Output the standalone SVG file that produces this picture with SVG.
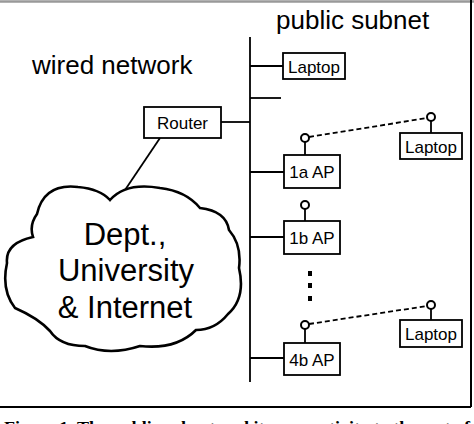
<svg xmlns="http://www.w3.org/2000/svg" width="474" height="424" viewBox="0 0 474 424">
<style>
.box{fill:#fff;stroke:#000;stroke-width:1.8}
.lbl{font-family:"Liberation Sans",Arial,sans-serif;font-size:17px;text-anchor:middle;fill:#000}
.big{font-family:"Liberation Sans",Arial,sans-serif;font-size:26px;fill:#000}
.cl{font-family:"Liberation Sans",Arial,sans-serif;font-size:31px;text-anchor:middle;fill:#000}
.ln{stroke:#000;stroke-width:1.8;fill:none}
.dash{stroke:#000;stroke-width:1.8;fill:none;stroke-dasharray:5,3}
.ant{fill:#fff;stroke:#000;stroke-width:2}
</style>
<rect width="474" height="424" fill="#fff"/>
<g id="frame">
<line x1="0" y1="1.5" x2="474" y2="1.5" stroke="#999" stroke-width="2.5"/>
<line x1="471" y1="0" x2="471" y2="407" stroke="#000" stroke-width="2"/>
<line x1="0" y1="407" x2="471" y2="407" stroke="#000" stroke-width="1.8"/>
</g>
<text class="big" x="32" y="74">wired network</text>
<text class="big" x="276" y="29">public subnet</text>
<g id="connectors">
<line class="ln" x1="250" y1="37" x2="250" y2="382" stroke-width="2.2"/>
<line class="ln" x1="250" y1="66" x2="283" y2="66"/>
<line class="ln" x1="250" y1="98" x2="281" y2="98"/>
<line class="ln" x1="221" y1="122" x2="250" y2="122"/>
<line class="ln" x1="250" y1="172" x2="284" y2="172"/>
<line class="ln" x1="250" y1="237" x2="284" y2="237"/>
<line class="ln" x1="250" y1="358" x2="284" y2="358"/>
<line class="ln" x1="160" y1="138" x2="123" y2="193"/>
<line class="dash" x1="309" y1="137" x2="427" y2="118"/>
<line class="dash" x1="309" y1="324" x2="427" y2="306"/>
</g>
<g id="cloud">
<path d="M37,214 Q44,183 78,187 Q100,189 110,200 Q126,182 160,188 Q186,191 200,208 Q226,211 229,230 Q242,245 239,268 Q246,298 228,314 Q215,330 196,330 Q176,350 140,346 Q110,356 85,346 Q60,346 50,331 Q38,318 15,308 Q1,290 7,263 Q5,243 33,237 Q29,225 37,214 Z" fill="#fff" stroke="#000" stroke-width="2.6"/>
<text class="cl" x="125" y="245">Dept.,</text>
<text class="cl" x="126" y="281">University</text>
<text class="cl" x="125" y="318">&amp; Internet</text>
</g>
<g id="router">
<rect class="box" x="144" y="107" width="77" height="31"/>
<text class="lbl" x="182.5" y="128.5">Router</text>
</g>
<g id="laptop1">
<rect class="box" x="283" y="53" width="62" height="26"/>
<text class="lbl" x="314" y="72.5">Laptop</text>
</g>
<g id="ap1a">
<line class="ln" x1="305" y1="142" x2="305" y2="155"/>
<circle class="ant" cx="305" cy="138" r="4"/>
<rect class="box" x="284" y="155" width="56" height="33"/>
<text class="lbl" x="312" y="178">1a AP</text>
</g>
<g id="laptop2">
<line class="ln" x1="431" y1="121" x2="431" y2="133"/>
<circle class="ant" cx="431" cy="117" r="4"/>
<rect class="box" x="400" y="133" width="62" height="26"/>
<text class="lbl" x="431" y="152.5">Laptop</text>
</g>
<g id="ap1b">
<line class="ln" x1="305" y1="209" x2="305" y2="221"/>
<circle class="ant" cx="305" cy="205" r="4"/>
<rect class="box" x="284" y="221" width="56" height="33"/>
<text class="lbl" x="312" y="244">1b AP</text>
</g>
<g id="dots">
<rect x="308" y="271" width="4" height="5"/>
<rect x="308" y="283" width="4" height="5"/>
<rect x="308" y="296" width="4" height="5"/>
</g>
<g id="ap4b">
<line class="ln" x1="305" y1="329" x2="305" y2="343"/>
<circle class="ant" cx="305" cy="325" r="4"/>
<rect class="box" x="284" y="343" width="56" height="32"/>
<text class="lbl" x="312" y="365.5">4b AP</text>
</g>
<g id="laptop3">
<line class="ln" x1="431" y1="309" x2="431" y2="320"/>
<circle class="ant" cx="431" cy="305" r="4"/>
<rect class="box" x="400" y="320" width="62" height="27"/>
<text class="lbl" x="431" y="339.5">Laptop</text>
</g>
<text x="4" y="433" font-family="'Liberation Serif','Times New Roman',serif" font-weight="bold" font-size="16" textLength="466" lengthAdjust="spacingAndGlyphs">Figure 1. The public subnet and its connectivity to the rest of</text>
</svg>
